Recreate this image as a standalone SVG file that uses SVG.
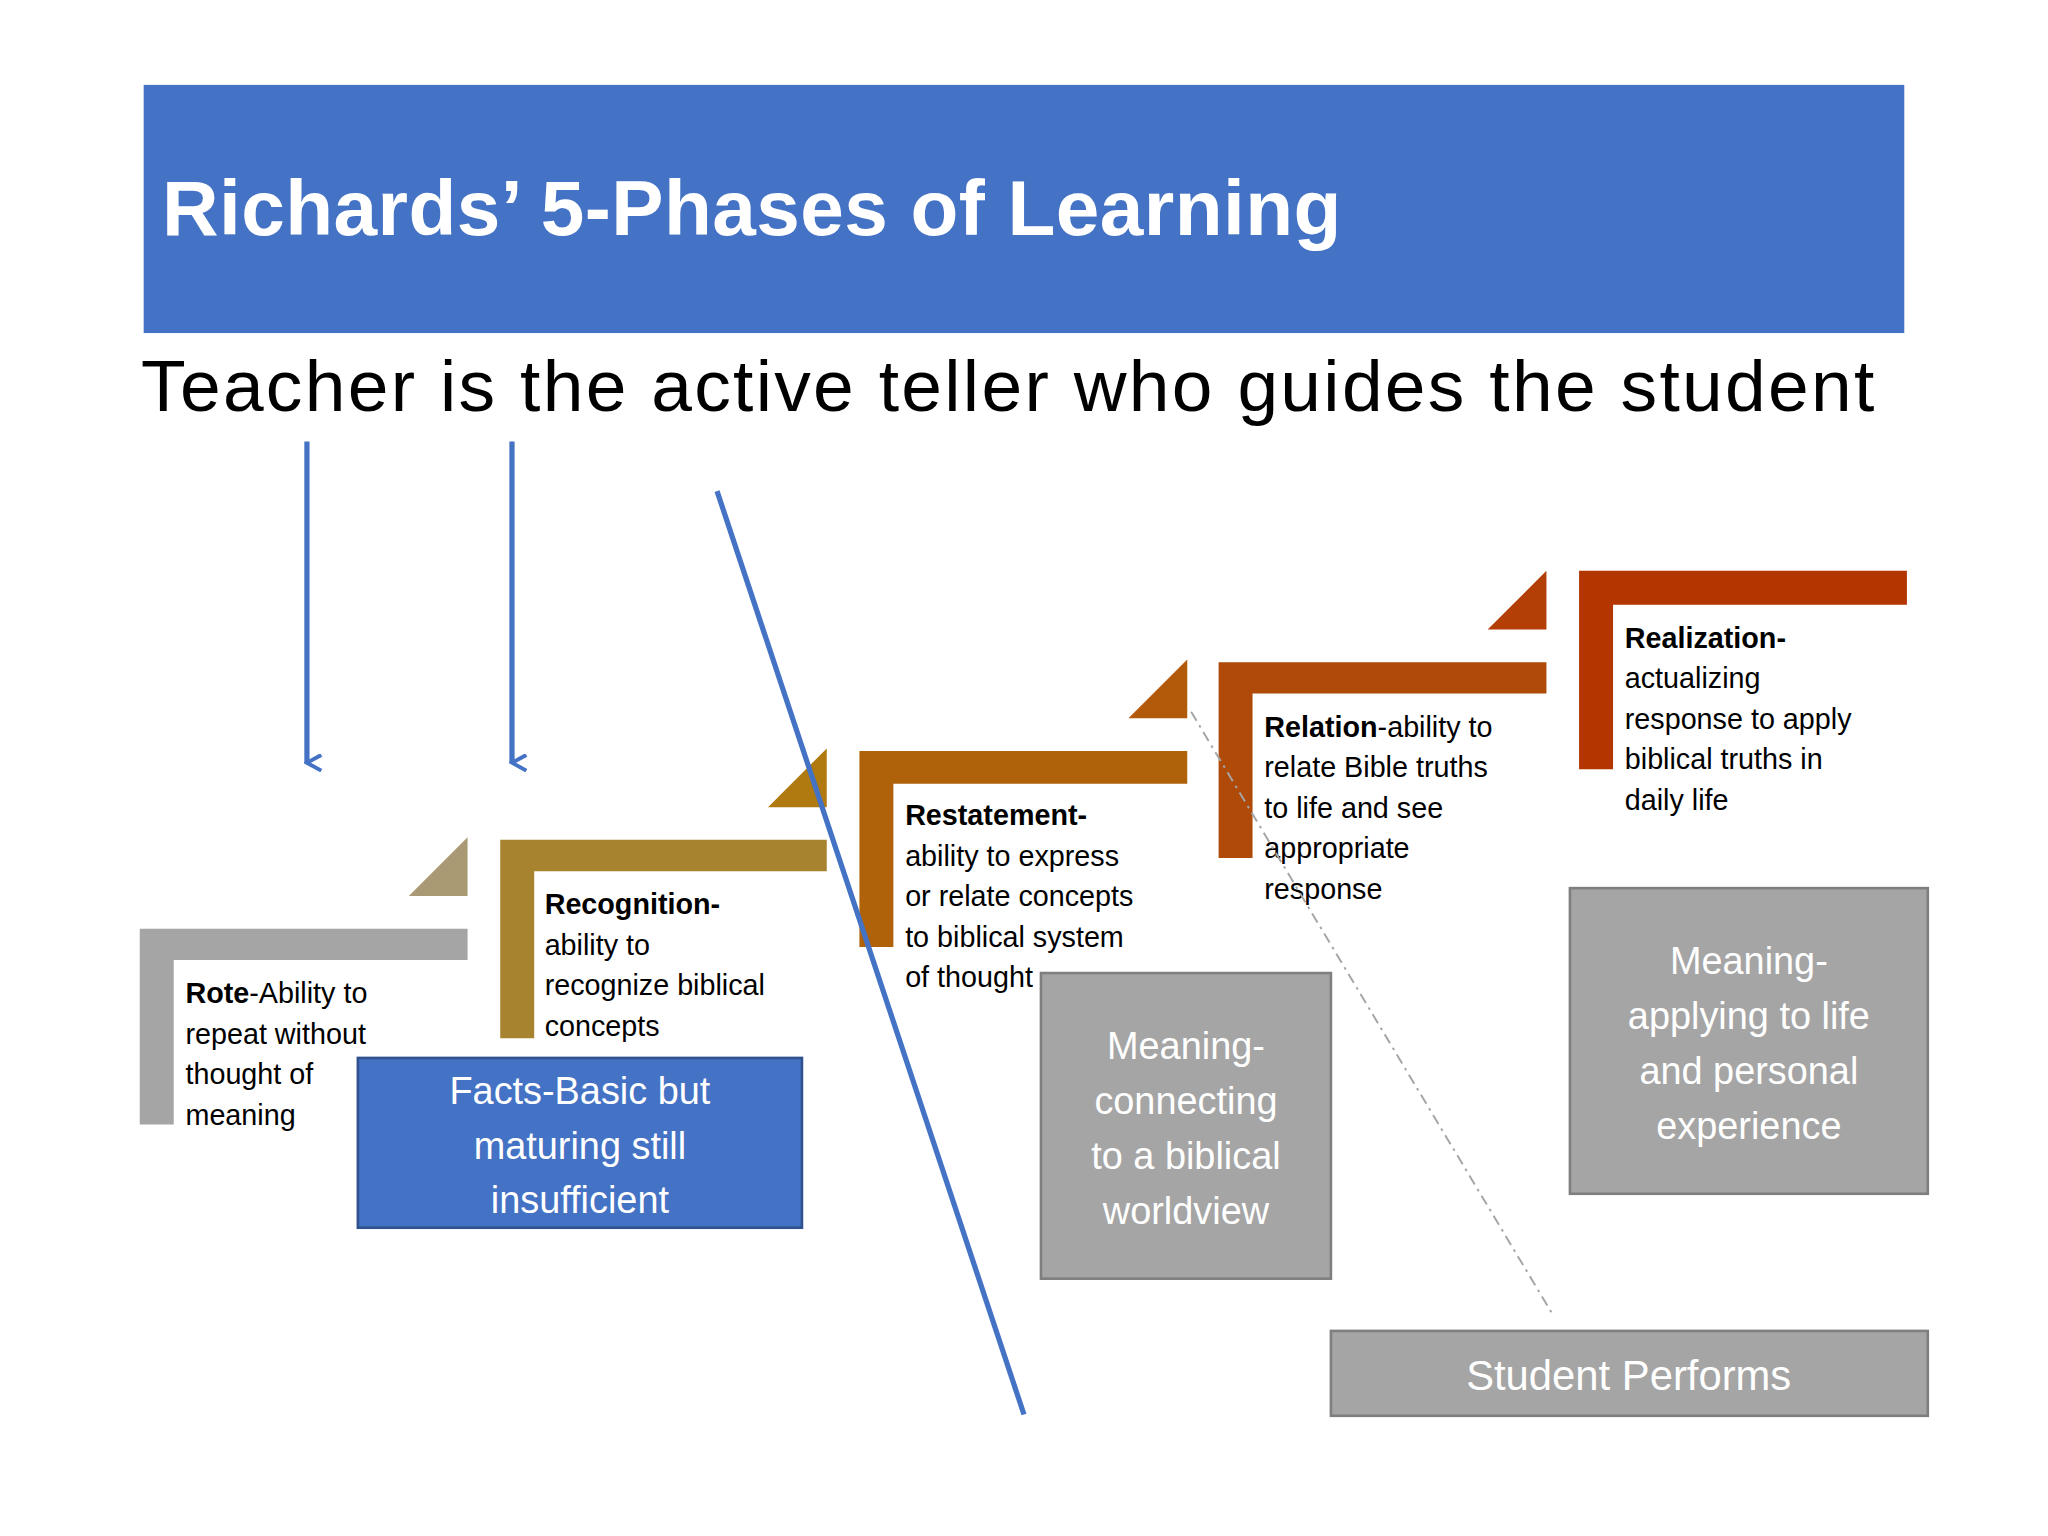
<svg xmlns="http://www.w3.org/2000/svg" width="2048" height="1536" viewBox="0 0 2048 1536">
<style>
.t{font-family:"Liberation Sans",Arial,sans-serif;font-size:22px;fill:#000}
.b{font-weight:bold}
.w{font-family:"Liberation Sans",Arial,sans-serif;fill:#fff;text-anchor:middle}
.gb{fill:#A5A5A5;stroke:#7F7F7F;stroke-width:2}
</style>
<defs>
<marker id="ah" markerWidth="14" markerHeight="14" refX="7" refY="12" orient="auto" markerUnits="userSpaceOnUse"><path d="M1,1 L7,12 L13,1" fill="none" stroke="#4472C4" stroke-width="3"/></marker>
</defs>
<rect width="2048" height="1536" fill="#fff"/>
<g transform="scale(1.3061)">
<g id="title"><rect x="110" y="65" width="1348" height="190" fill="#4472C4"/>
<text x="124" y="180" font-family="Liberation Sans,Arial,sans-serif" font-weight="bold" font-size="60" fill="#fff" textLength="903">Richards’ 5-Phases of Learning</text></g>
<g id="subtitle"><text x="108" y="315" font-family="Liberation Sans,Arial,sans-serif" font-size="56" fill="#000" textLength="1327">Teacher is the active teller who guides the student</text></g>

<g id="rote"><polygon points="313,686 358,641 358,686" fill="#A99A73"/>
<path d="M107,711H358V735H133V861H107Z" fill="#A5A5A5"/>
<text class="t" x="142" y="768"><tspan class="b">Rote</tspan>-Ability to</text>
<text class="t" x="142" y="799">repeat without</text><text class="t" x="142" y="830">thought of</text><text class="t" x="142" y="861">meaning</text></g>

<g id="recognition"><polygon points="588,618 633,573 633,618" fill="#B07A10"/>
<path d="M383,643H633V667H409V795H383Z" fill="#A8832F"/>
<text class="t b" x="417" y="700">Recognition-</text><text class="t" x="417" y="731">ability to</text>
<text class="t" x="417" y="762">recognize biblical</text><text class="t" x="417" y="793">concepts</text></g>

<g id="restatement"><polygon points="864,550 909,505 909,550" fill="#B35A0A"/>
<path d="M658,575H909V600H684V725H658Z" fill="#B0620A"/>
<text class="t b" x="693" y="632">Restatement-</text><text class="t" x="693" y="663">ability to express</text>
<text class="t" x="693" y="694">or relate concepts</text><text class="t" x="693" y="725">to biblical system</text><text class="t" x="693" y="756">of thought</text></g>

<g id="relation"><polygon points="1139,482 1184,437 1184,482" fill="#B33F06"/>
<path d="M933,507H1184V531H959V657H933Z" fill="#B04A08"/>
<text class="t" x="968" y="564"><tspan class="b">Relation</tspan>-ability to</text>
<text class="t" x="968" y="595">relate Bible truths</text><text class="t" x="968" y="626">to life and see</text>
<text class="t" x="968" y="657">appropriate</text><text class="t" x="968" y="688">response</text></g>

<g id="realization"><path d="M1209,437H1460V463H1235V589H1209Z" fill="#B33500"/>
<text class="t b" x="1244" y="496">Realization-</text><text class="t" x="1244" y="527">actualizing</text>
<text class="t" x="1244" y="558">response to apply</text><text class="t" x="1244" y="589">biblical truths in</text><text class="t" x="1244" y="620">daily life</text></g>

<g id="facts"><rect x="274" y="810" width="340" height="130" fill="#4472C4" stroke="#2F528F" stroke-width="2"/>
<text class="w" font-size="29" x="444" y="845">Facts-Basic but</text><text class="w" font-size="29" x="444" y="887">maturing still</text><text class="w" font-size="29" x="444" y="929">insufficient</text></g>

<g id="meaning1"><rect class="gb" x="797" y="745" width="222" height="234"/>
<text class="w" font-size="29" x="908" y="811">Meaning-</text><text class="w" font-size="29" x="908" y="853">connecting</text>
<text class="w" font-size="29" x="908" y="895">to a biblical</text><text class="w" font-size="29" x="908" y="937">worldview</text></g>

<g id="meaning2"><rect class="gb" x="1202" y="680" width="274" height="234"/>
<text class="w" font-size="29" x="1339" y="746">Meaning-</text><text class="w" font-size="29" x="1339" y="788">applying to life</text>
<text class="w" font-size="29" x="1339" y="830">and personal</text><text class="w" font-size="29" x="1339" y="872">experience</text></g>

<g id="student"><rect class="gb" x="1019" y="1019" width="457" height="65"/>
<text class="w" font-size="32" x="1247" y="1064">Student Performs</text></g>

<g id="connectors" fill="none">
<line x1="235" y1="338" x2="235" y2="584" stroke="#4472C4" stroke-width="4" marker-end="url(#ah)"/>
<line x1="392" y1="338" x2="392" y2="584" stroke="#4472C4" stroke-width="4" marker-end="url(#ah)"/>
<line x1="549" y1="376" x2="784" y2="1083" stroke="#4472C4" stroke-width="4"/>
<line x1="912" y1="545" x2="1188" y2="1005" stroke="#A5A5A5" stroke-width="1.5" stroke-dasharray="8,4,2,4"/>
</g>
</g>
</svg>
